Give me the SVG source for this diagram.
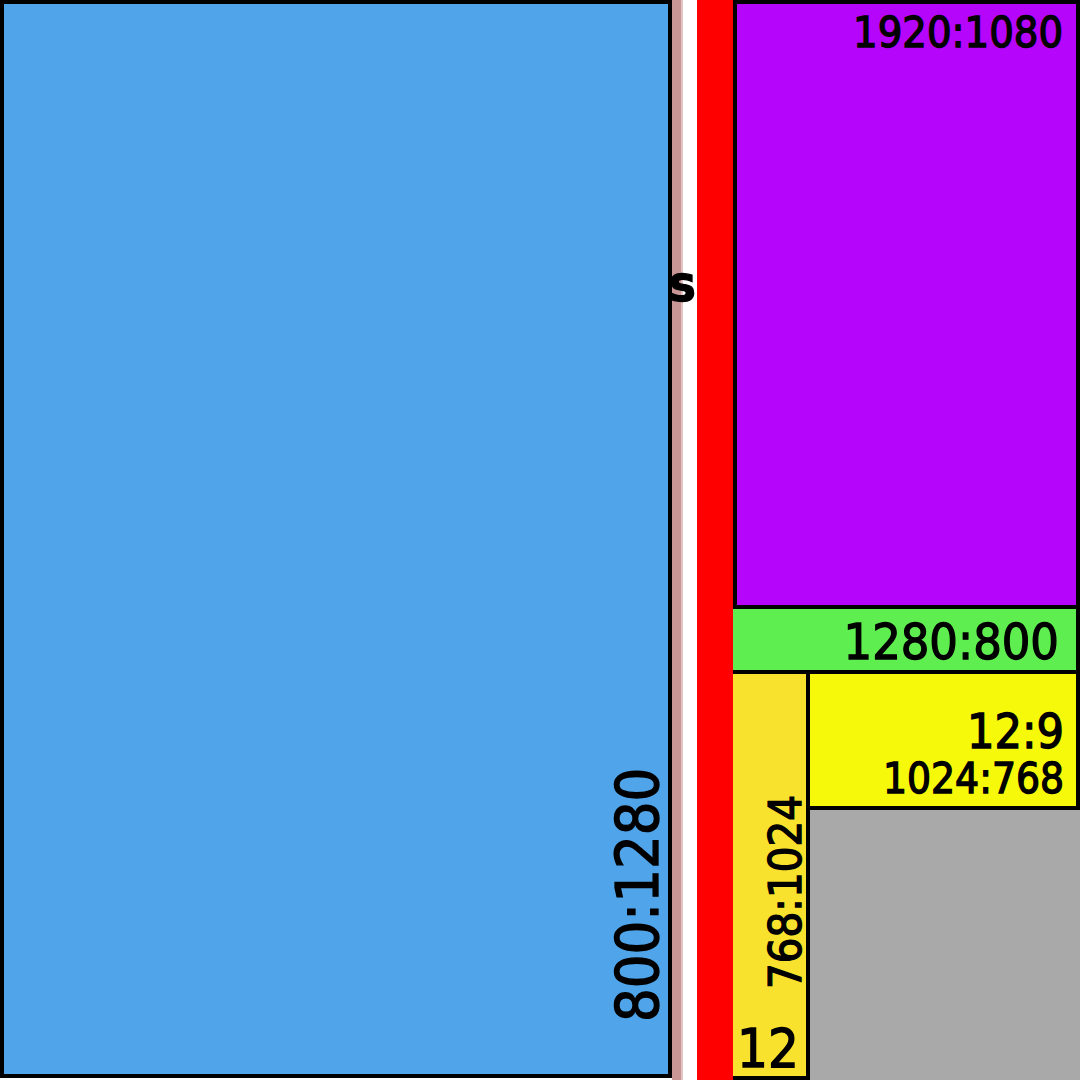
<svg xmlns="http://www.w3.org/2000/svg" width="1080" height="1080" viewBox="0 0 1080 1080">
<style>
.box{stroke:#000;stroke-width:4}
.t{font-family:"DejaVu Sans Condensed","DejaVu Sans",sans-serif;fill:#000;stroke:#000;stroke-width:1.3}
.e{text-anchor:end}
</style>
<rect width="1080" height="1080" fill="#ffffff"/>
<g id="node-800x1280"><rect class="box" x="2" y="2" width="668" height="1074" fill="#4FA4EA"/>
<text class="t" font-size="59" transform="translate(658,1022) rotate(-90)">800:1280</text></g>
<g id="node-strip"><rect x="672" y="0" width="10" height="1080" fill="#C99696"/><rect x="681" y="0" width="2" height="1080" fill="#E2C4C4"/></g>
<g id="node-white"><rect x="683" y="0" width="14" height="1080" fill="#ffffff"/></g>
<g id="node-gray"><rect x="808" y="808" width="272" height="272" fill="#A9A9A9"/></g>
<g id="node-1920x1080"><rect class="box" x="735" y="2" width="343" height="605" fill="#B505FB"/>
<text class="t e" font-size="43" x="1063" y="47">1920:1080</text></g>
<g id="node-1280x800"><rect class="box" x="735" y="607" width="343" height="65" fill="#5FEE4F"/>
<rect x="733" y="609" width="4" height="61" fill="#5FEE4F"/>
<text class="t e" font-size="50" x="1059" y="659">1280:800</text></g>
<g id="node-12x9"><rect class="box" x="808" y="672" width="270" height="136" fill="#F7F90A"/>
<text class="t e" font-size="48" x="1064" y="748">12:9</text>
<text class="t e" font-size="42" x="1064" y="793">1024:768</text></g>
<g id="node-768x1024"><rect class="box" x="735" y="672" width="73" height="406" fill="#F9E22D"/>
<rect x="733" y="674" width="4" height="402" fill="#F9E22D"/>
<text class="t" font-size="45" transform="translate(801,989) rotate(-90)">768:1024</text>
<text class="t" font-size="54" x="737" y="1067">12</text></g>
<g id="node-red"><rect x="697" y="0" width="36" height="1080" fill="#FF0000"/></g>
<g id="node-s"><text class="t" font-size="50" font-weight="bold" x="669" y="301">s</text></g>
<g id="connectors"></g>
</svg>
